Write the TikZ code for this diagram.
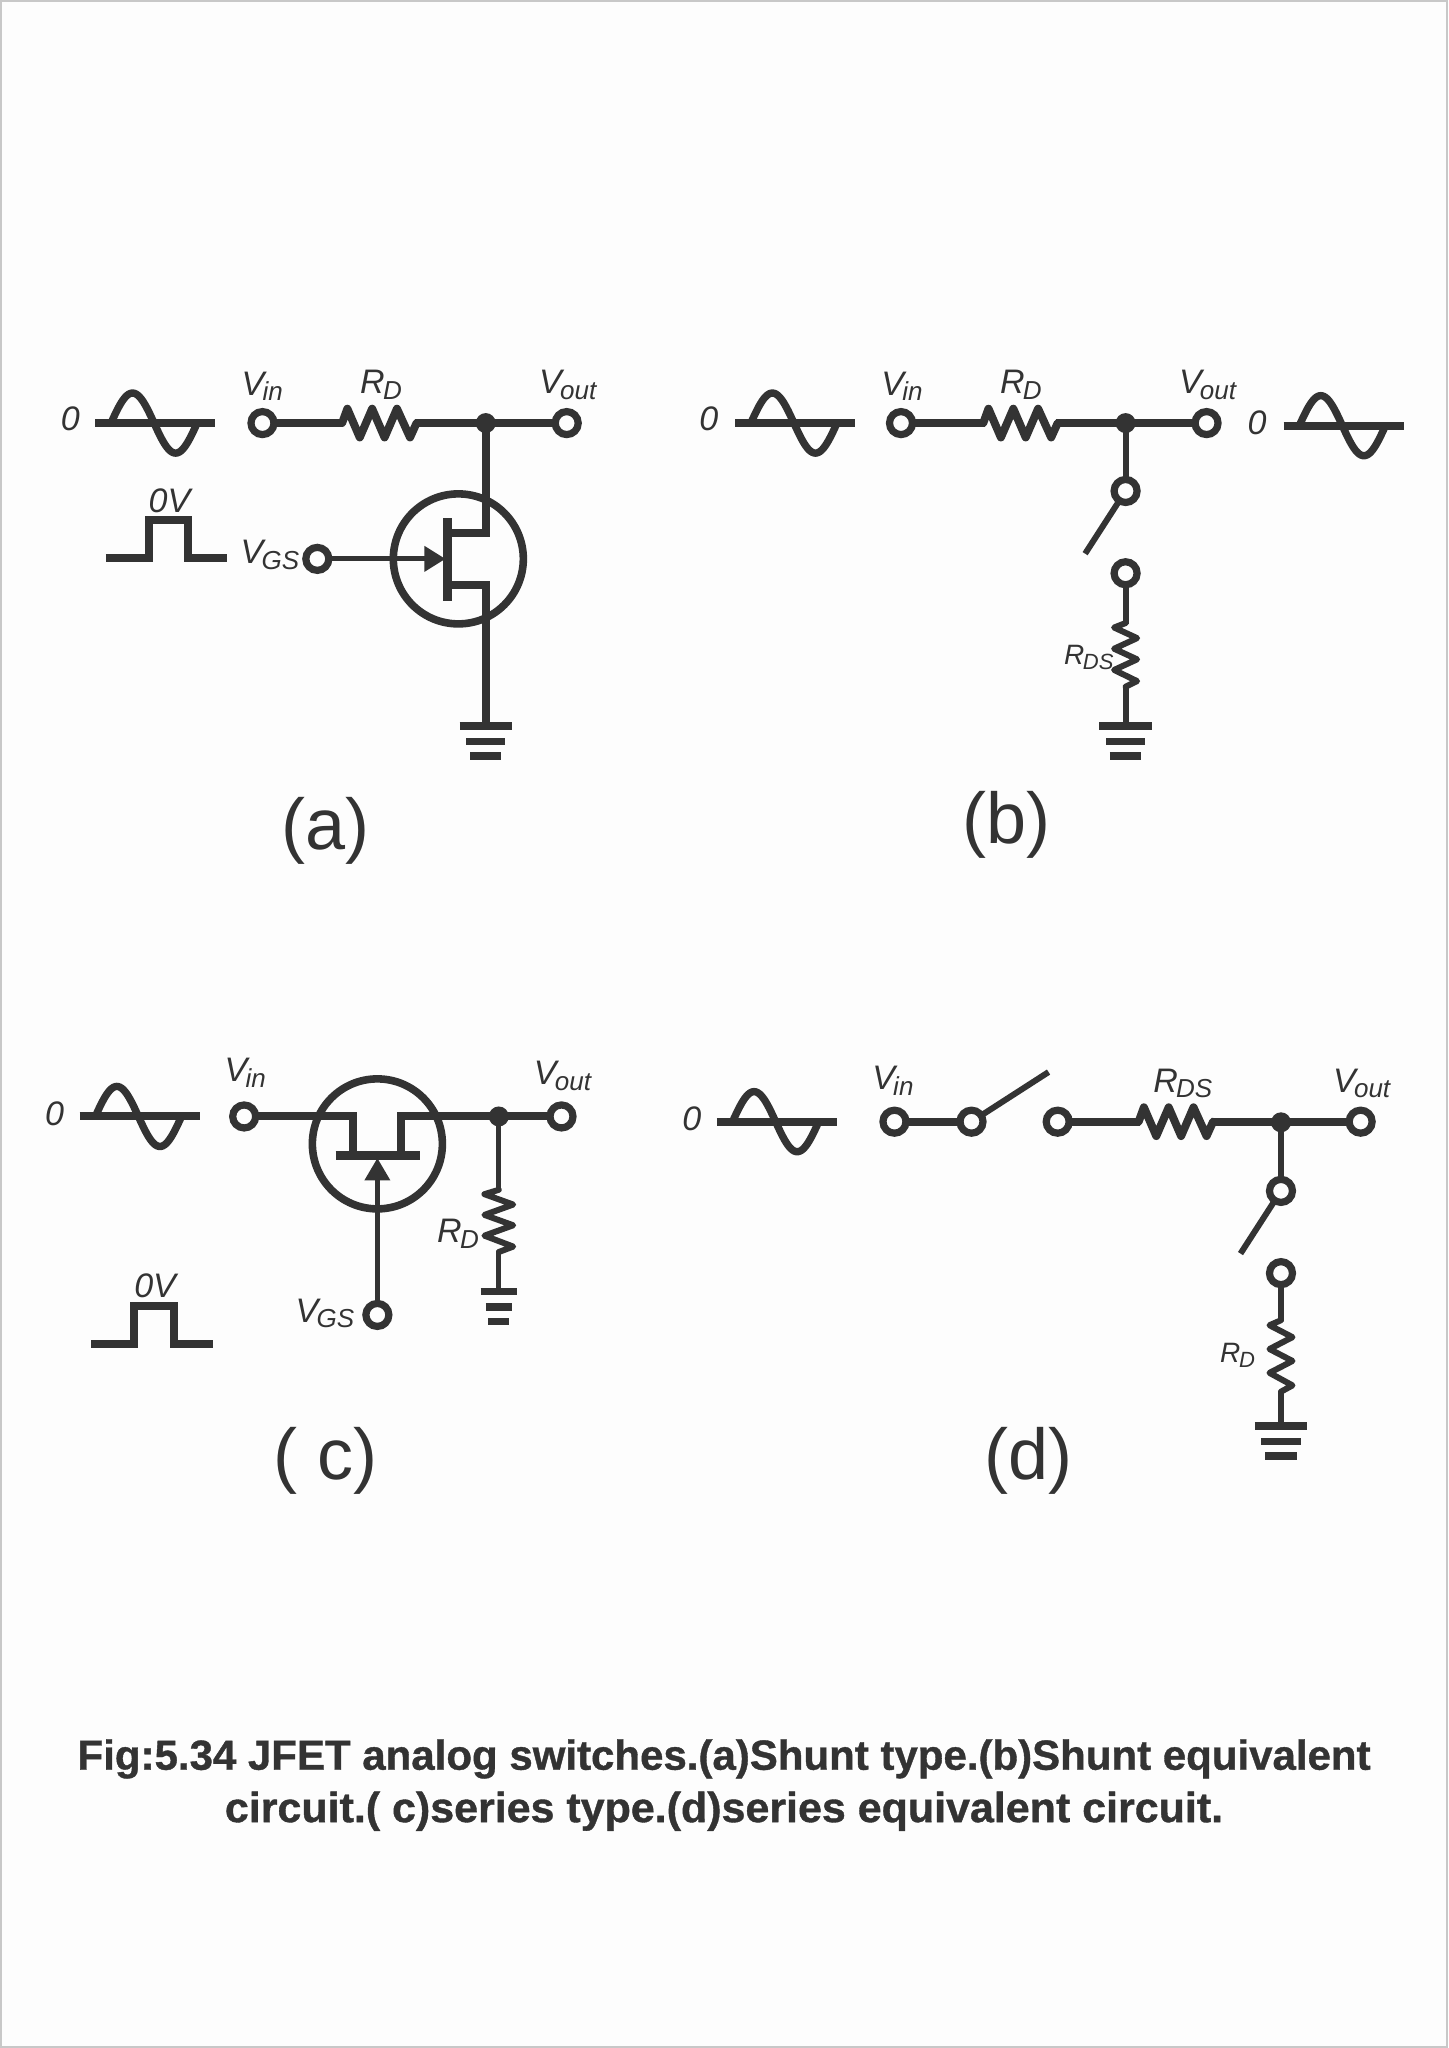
\documentclass[tikz,border=0pt]{standalone}
\usepackage{fontspec}
\setmainfont{Liberation Sans}
\newfontfamily\capfont[BoldFeatures={FakeBold=0.9}]{Liberation Sans}
\newcommand{\lab}[3][17]{{\itshape\fontsize{#1}{#1}\selectfont #2\kern-.05em\raisebox{-.17em}{\fontsize{\numexpr #1*3/4\relax}{#1}\selectfont #3}}}
\newcommand{\zer}[1]{{\itshape\fontsize{#1}{#1}\selectfont 0}}
\definecolor{ink}{HTML}{333333}
\definecolor{paper}{HTML}{FDFDFD}
\definecolor{edgeline}{HTML}{C8C8C8}
\tikzset{
  wire/.style={draw=ink,line width=4pt,line join=miter},
  thinwire/.style={draw=ink,line width=2.4pt},
  midwire/.style={draw=ink,line width=3pt,line join=miter},
  ring/.style={circle,draw=ink,line width=3.6pt,fill=paper,inner sep=0pt,outer sep=0pt,minimum size=11.5pt},
  dot/.style={circle,fill=ink,inner sep=0pt,outer sep=0pt,minimum size=10pt},
  lbl/.style={text=ink,inner sep=0pt,xshift=.5pt,yshift=-.5pt},
  plab/.style={text=ink,inner sep=0pt,font=\fontsize{36}{36}\selectfont},
  caption/.style={text=ink,inner sep=0pt,align=center},
  fetcircle/.style={circle,draw=ink,line width=3.8pt,inner sep=0pt,outer sep=0pt,minimum size=65pt},
  gndbar/.style={draw=ink,line width=3.8pt},
  reswave/.pic={\draw[pic actions,line join=round,line cap=round] (-1,0)--(3,-11)--(12.5,11)--(22,-11)--(31.5,11)--(41,-11)--(51,11)--(56,0);},
  sinewave/.pic={
    \draw[wire] (0,0)--(92,0);
    \draw[draw=ink,line width=3.7pt] plot[domain=0:360,samples=61] ({12+\x/360*66},{-23*sin(\x)});
  },
  pulsewave/.pic={\draw[wire] (0,0)--(33,0)--(33,-29)--(63,-29)--(63,0)--(93,0);},
  groundsym/.pic={
    \draw[gndbar] (-20,0)--(20,0);
    \draw[gndbar] (-15,12)--(15,12);
    \draw[gndbar] (-12,23)--(12,23);
  },
  smallground/.pic={
    \draw[gndbar] (-14,0)--(14,0);
    \draw[gndbar] (-10,12)--(10,12);
    \draw[gndbar] (-8,23)--(8,23);
  },
}
\begin{document}
\begin{tikzpicture}[x=0.65285pt,y=-0.65285pt]
\useasboundingbox (0,0) rectangle (1109,1568.4);
\fill[paper] (0,0) rectangle (1109,1568.4);
\draw[edgeline,line width=1pt] (0.8,0.8) rectangle (1108.2,1567.6);

% ---------- (a)
\pic at (73,324) {sinewave};
\node[lbl] (a0) at (53,320) {\zer{17}};
\node[ring] (avin) at (201,324) {};
\node[lbl] (avinl) at (200,295) {\lab{V}{in}};
\coordinate (arl) at (263,324); \coordinate (arr) at (318,324);
\node[dot] (aj) at (372,324) {};
\node[ring] (avout) at (434,324) {};
\node[lbl] (avoutl) at (434,294) {\lab{V}{out}};
\node[lbl] (ard) at (291,294) {\lab{R}{D}};
\draw[wire] (avin)--(arl);
\pic[wire] at (arl) {reswave};
\draw[wire] (arr)--(aj.center)--(avout);
\node[fetcircle] (afet) at (351,428) {};
\coordinate (ad) at (372,408); \coordinate (as) at (372,448);
\coordinate (ag) at (372,556);
\draw[wire] (aj.center)--(ad)--(343,408);
\draw[wire] (343,448)--(as)--(ag);
\draw[draw=ink,line width=4.4pt] (343,397)--(343,460);
\pic at (ag) {groundsym};
\pic at (81,427) {pulsewave};
\node[lbl] (a0v) at (129,383) {\itshape\fontsize{17}{17}\selectfont 0V};
\node[lbl] (avgsl) at (206,424) {\lab{V}{GS}};
\node[ring] (avgs) at (243,428) {};
\coordinate (agt) at (341,428);
\draw[thinwire] (avgs)--(326,428);
\fill[ink] (agt)--(325,418)--(325,438)--cycle;
\node[plab] (acap) at (249,636) {(a)};

% ---------- (b)
\pic at (563,324) {sinewave};
\node[lbl] (b0) at (542,320) {\zer{17}};
\node[ring] (bvin) at (690,324) {};
\node[lbl] (bvinl) at (690,295) {\lab{V}{in}};
\coordinate (brl) at (754,324); \coordinate (brr) at (809,324);
\node[dot] (bj) at (862,324) {};
\node[ring] (bvout) at (924,324) {};
\node[lbl] (bvoutl) at (924,294) {\lab{V}{out}};
\node[lbl] (brd) at (781,294) {\lab{R}{D}};
\draw[wire] (bvin)--(brl);
\pic[wire] at (brl) {reswave};
\draw[wire] (brr)--(bj.center)--(bvout);
\node[ring] (bs1) at (862,376) {};
\node[ring] (bs2) at (862,439) {};
\draw[midwire] (bj.center)--(bs1);
\draw[midwire] (bs1)--(831,424);
\coordinate (brt) at (862,478); \coordinate (brb) at (862,525); \coordinate (bg) at (862,556);
\draw[midwire] (bs2)--(brt);
\pic[midwire,rotate=-90,yscale=-.8,xscale=.855] at (brt) {reswave};
\draw[midwire] (brb)--(bg);
\pic at (bg) {groundsym};
\node[lbl] (brds) at (833,503) {\lab[14]{R}{DS}};
\node[plab] (bcap) at (771,632) {(b)};
\pic at (983,326) {sinewave};
\node[lbl] (bz) at (962,323) {\zer{17}};

% ---------- (c)
\pic at (61,855) {sinewave};
\node[lbl] (c0) at (41,852) {\zer{17}};
\node[ring] (cvin) at (187,855) {};
\node[lbl] (cvinl) at (187,821) {\lab{V}{in}};
\node[fetcircle] (cfet) at (289,876) {};
\node[dot] (cj) at (382,855) {};
\node[ring] (cvout) at (430,855) {};
\node[lbl] (cvoutl) at (430,823) {\lab{V}{out}};
\draw[wire] (cvin)--(270,855)--(270,885);
\draw[wire] (307,885)--(307,855)--(cj.center)--(cvout);
\draw[draw=ink,line width=4.4pt] (257,885)--(322,885);
\node[ring] (cvgs) at (289,1007) {};
\draw[thinwire] (cvgs)--(289,904);
\fill[ink] (289,887)--(279,904)--(299,904)--cycle;
\node[lbl] (cvgsl) at (248,1005) {\lab{V}{GS}};
\coordinate (crt) at (382,912); \coordinate (crb) at (382,958); \coordinate (cg) at (382,989);
\draw[thinwire] (cj.center)--(crt);
\pic[midwire,rotate=-90,yscale=-1,xscale=.836] at (crt) {reswave};
\draw[thinwire] (crb)--(cg);
\pic at (cg) {smallground};
\node[lbl] (crd) at (350,944) {\lab{R}{D}};
\pic at (70,1029) {pulsewave};
\node[lbl] (c0v) at (118,984) {\itshape\fontsize{17}{17}\selectfont 0V};
\node[plab] (ccap) at (249,1119) {( c)};

% ---------- (d)
\pic at (549,859) {sinewave};
\node[lbl] (d0) at (529,856) {\zer{17}};
\node[ring] (dvin) at (685,859) {};
\node[lbl] (dvinl) at (683,827) {\lab{V}{in}};
\node[ring] (ds1) at (744,859) {};
\node[ring] (ds2) at (810,859) {};
\draw[wire] (dvin)--(ds1);
\draw[midwire] (ds1)--(803,821);
\coordinate (drl) at (873,859); \coordinate (drr) at (928,859);
\node[dot] (dj) at (981,859.5) {};
\node[ring] (dvout) at (1042,859) {};
\node[lbl] (dvoutl) at (1042,829) {\lab{V}{out}};
\node[lbl] (drds) at (905,829) {\lab{R}{DS}};
\draw[wire] (ds2)--(drl);
\pic[wire] at (drl) {reswave};
\draw[wire] (drr)--(981,859)--(dvout);
\node[ring] (ds3) at (981,912) {};
\node[ring] (ds4) at (981,975) {};
\draw[midwire] (dj.center)--(ds3);
\draw[midwire] (ds3)--(950,960);
\coordinate (drt) at (981,1012); \coordinate (drb) at (981,1065); \coordinate (dg) at (981,1092);
\draw[midwire] (ds4)--(drt);
\pic[midwire,rotate=-90,yscale=-.8,xscale=.96] at (drt) {reswave};
\draw[midwire] (drb)--(dg);
\pic at (dg) {groundsym};
\node[lbl] (drd) at (947,1037) {\lab[14]{R}{D}};
\node[plab] (dcap) at (788,1119) {(d)};

% ---------- caption
\node[caption,font=\capfont\bfseries\fontsize{21}{26.2}\selectfont] (fig) at (554.5,1367) {Fig:5.34 JFET analog switches.(a)Shunt type.(b)Shunt equivalent\\\scalebox{1.023}[1]{circuit.( c)series type.(d)series equivalent circuit.}};
\end{tikzpicture}
\end{document}
